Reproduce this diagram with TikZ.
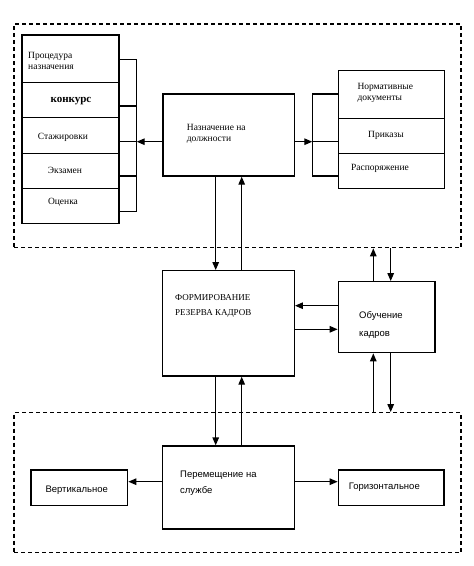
\documentclass[tikz,border=0pt]{standalone}
\usepackage{fontspec}
\setmainfont{Liberation Serif}
\newfontfamily\sansf{Liberation Sans}
\usetikzlibrary{arrows.meta}
\begin{document}
\begin{tikzpicture}[x=1pt,y=-1pt,
  box/.style={draw,line width=1.3pt,rectangle,inner sep=0pt},
  dashbox/.style={draw,line width=1.3pt,dash pattern=on 4pt off 3pt,rectangle,inner sep=0pt},
  conn/.style={line width=1.3pt},
  arr/.style={line width=1.3pt,-{Triangle[length=8pt,width=6.5pt]}},
  serif/.style={font=\fontsize{9.5}{11}\selectfont,inner sep=0pt,align=left},
  sans/.style={font=\sansf\fontsize{9.5}{11}\selectfont,inner sep=0pt,align=left}]
\useasboundingbox (0,0) rectangle (474,566);
% dashed frames
\node[dashbox,minimum width=447pt,minimum height=223.7pt] (topframe) at (237.5,135.85) {};
\node[dashbox,minimum width=447pt,minimum height=140pt] (botframe) at (237.5,482.7) {};
% left stack
\node[box,minimum width=97pt,minimum height=47.3pt] (c1) at (70.5,58.65) {};
\node[box,minimum width=97pt,minimum height=35.4pt] (c2) at (70.5,100) {};
\node[box,minimum width=97pt,minimum height=35.6pt] (c3) at (70.5,135.5) {};
\node[box,minimum width=97pt,minimum height=35pt] (c4) at (70.5,170.8) {};
\node[box,minimum width=97pt,minimum height=35pt] (c5) at (70.5,205.8) {};
\node[serif,anchor=west] (t1) at (28,60.5) {Процедура\\назначения};
\node[inner sep=0pt,font=\bfseries\fontsize{11}{13}\selectfont] (t2) at (71,101) {конкурс};
\node[serif] (t3) at (63,137) {Стажировки};
\node[serif] (t4) at (65,170) {Экзамен};
\node[serif] (t5) at (63,202) {Оценка};
% naznachenie
\node[box,minimum width=131.3pt,minimum height=82pt] (nazn) at (228.65,135) {};
\node[serif,anchor=west] (tn) at (186.7,134.2) {Назначение на\\должности};
% right stack
\node[box,minimum width=106pt,minimum height=47.6pt] (r1) at (391.3,94.5) {};
\node[box,minimum width=106pt,minimum height=35pt] (r2) at (391.3,135.8) {};
\node[box,minimum width=106pt,minimum height=35pt] (r3) at (391.3,170.8) {};
\node[serif,anchor=west] (tr1) at (357.3,93.4) {Нормативные\\документы};
\node[serif] (tr2) at (386,135.7) {Приказы};
\node[serif] (tr3) at (380,168.3) {Распоряжение};
% middle
\node[box,minimum width=131.6pt,minimum height=105.3pt] (form) at (228.5,323.35) {};
\node[serif,anchor=west,font=\fontsize{9}{15}\selectfont] (tf) at (175,305.8) {ФОРМИРОВАНИЕ\\РЕЗЕРВА КАДРОВ};
\node[box,minimum width=96.7pt,minimum height=71pt] (obuch) at (386.65,317.2) {};
\node[sans,anchor=west,font=\sansf\fontsize{9.5}{18}\selectfont] (to) at (359,325) {Обучение\\кадров};
% bottom
\node[box,minimum width=131.6pt,minimum height=83pt] (perem) at (228.5,487.5) {};
\node[sans,anchor=west,font=\sansf\fontsize{9.5}{16.7}\selectfont] (tp) at (180,483.3) {Перемещение на\\службе};
\node[box,minimum width=96.7pt,minimum height=35.7pt] (vert) at (79.35,487.85) {};
\node[sans] (tv) at (76.7,490) {Вертикальное};
\node[box,minimum width=105.7pt,minimum height=35.7pt] (horiz) at (391.15,487.85) {};
\node[sans] (th) at (384.3,487.3) {Горизонтальное};
% left bracket
\coordinate (lb1) at (136.7,59.3);
\coordinate (lb2) at (136.7,106);
\coordinate (lb3) at (136.7,141.7);
\coordinate (lb4) at (136.7,176);
\coordinate (lb5) at (136.7,211.7);
\draw[conn] (c1.east |- lb1) -- (lb1) -- (lb5) -- (c5.east |- lb5);
\draw[conn] (c2.east |- lb2) -- (lb2);
\draw[conn] (c3.east |- lb3) -- (lb3);
\draw[conn] (c4.east |- lb4) -- (lb4);
\draw[arr] (nazn.west |- lb3) -- (lb3);
% right bracket
\coordinate (rb1) at (312.3,94);
\coordinate (rb2) at (312.3,141.7);
\coordinate (rb3) at (312.3,176);
\draw[conn] (r1.west |- rb1) -- (rb1) -- (rb3) -- (r3.west |- rb3);
\draw[conn] (r2.west |- rb2) -- (rb2);
\draw[arr] (nazn.east |- rb2) -- (rb2);
% naznachenie <-> form
\draw[arr] (nazn.south -| 215.7,0) -- (form.north -| 215.7,0);
\draw[arr] (form.north -| 241.7,0) -- (nazn.south -| 241.7,0);
% form <-> obuch
\draw[arr] (obuch.west |- 0,305.7) -- (form.east |- 0,305.7);
\draw[arr] (form.east |- 0,329.3) -- (obuch.west |- 0,329.3);
% obuch <-> frames
\draw[arr] (obuch.north -| 373.3,0) -- (topframe.south -| 373.3,0);
\draw[arr] (topframe.south -| 390.7,0) -- (obuch.north -| 390.7,0);
\draw[arr] (botframe.north -| 373.3,0) -- (obuch.south -| 373.3,0);
\draw[arr] (obuch.south -| 390.7,0) -- (botframe.north -| 390.7,0);
% form <-> perem
\draw[arr] (form.south -| 215.7,0) -- (perem.north -| 215.7,0);
\draw[arr] (perem.north -| 241.7,0) -- (form.south -| 241.7,0);
% perem -> sides
\draw[arr] (perem.west |- 0,481.7) -- (vert.east |- 0,481.7);
\draw[arr] (perem.east |- 0,481.7) -- (horiz.west |- 0,481.7);
\end{tikzpicture}
\end{document}
